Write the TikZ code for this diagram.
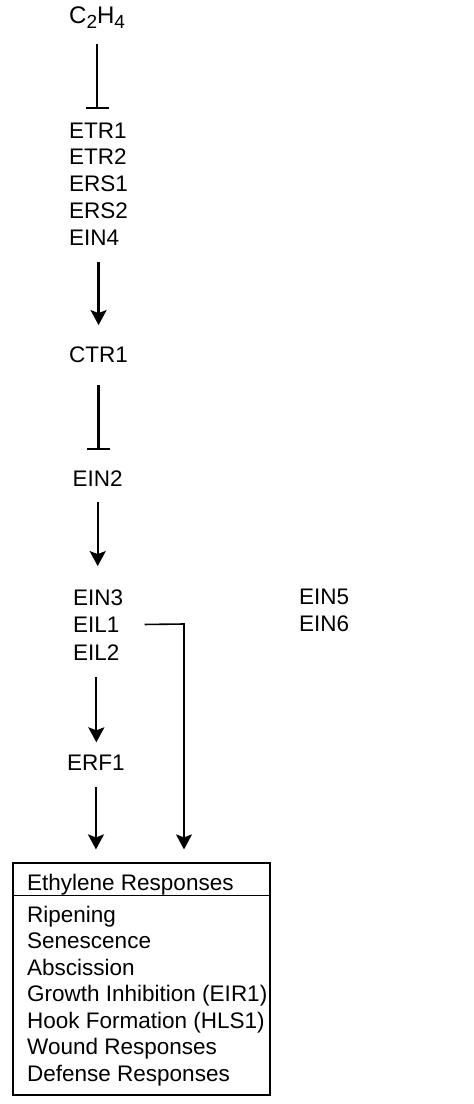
\documentclass[tikz,border=0pt]{standalone}
\usepackage{fontspec}
\setmainfont{Liberation Sans}
\usetikzlibrary{arrows.meta}

\begin{document}
\begin{tikzpicture}[x=1pt, y=-1pt,
  every node/.style={anchor=base west, inner sep=0pt, font=\fontsize{22.5}{26}\selectfont},
  act/.style={line width=2.2pt, -{Stealth[length=15pt, width=16pt, inset=3pt]}},
  inhibit/.style={line width=2.2pt, -{Bar[width=23pt, line width=2pt]}}]
\useasboundingbox (0,0) rectangle (474,1104);

\node (c2h4) at (69, 23) [font=\fontsize{24}{26}\selectfont] {C\raisebox{-5pt}{\fontsize{19}{19}\selectfont 2}H\raisebox{-5pt}{\fontsize{19}{19}\selectfont 4}};

\node (etr1) at (69, 138.5) {ETR1};
\node (etr2) at (69, 164.5) {ETR2};
\node (ers1) at (69, 191) {ERS1};
\node (ers2) at (69, 218.5) {ERS2};
\node (ein4) at (69, 245.5) {EIN4};

\node (ctr1) at (69, 362) {CTR1};
\node (ein2) at (72.5, 486) {EIN2};

\node (ein3) at (73, 605) {EIN3};
\node (eil1) at (73, 632.5) {EIL1};
\node (eil2) at (73, 660) {EIL2};

\node (ein5) at (299, 604) {EIN5};
\node (ein6) at (299, 631) {EIN6};

\node (erf1) at (67, 770) {ERF1};

\node (resp) at (141.5, 979) [anchor=center, draw, line width=1.2pt, minimum width=257pt, minimum height=232pt] {};
\draw[line width=1.2pt] ([yshift=-33pt]resp.north west) -- ([yshift=-33pt]resp.north east);

\node (head) at (27, 890) {Ethylene Responses};
\node (ripe) at (27, 922) {Ripening};
\node (sene) at (27, 948.5) {Senescence};
\node (absc) at (27, 975) {Abscission};
\node (grow) at (27, 1001.5) {Growth Inhibition (EIR1)};
\node (hook) at (27, 1028) {Hook Formation (HLS1)};
\node (wound) at (27, 1054.5) {Wound Responses};
\node (defe) at (27, 1081) {Defense Responses};

\coordinate (bend) at (184, 624);

\draw[inhibit, shorten <=16pt, shorten >=14pt] (c2h4.south) -- (c2h4.south |- etr1.north);
\draw[act, shorten <=16.5pt, shorten >=21pt] (ctr1.north |- ein4.south) -- (ctr1.north);
\draw[inhibit, shorten <=23pt, shorten >=20pt] (ctr1.south) -- (ctr1.south |- ein2.north);
\draw[act, shorten <=16pt, shorten >=23pt] (ein2.south) -- (ein2.south |- ein3.north);
\draw[act, shorten <=17pt, shorten >=12pt] (eil2.south) -- (eil2.south |- erf1.north);
\draw[act, shorten <=17pt, shorten >=13pt] (erf1.south) -- (erf1.south |- resp.north);
\draw[act, line width=1.6pt, shorten <=25pt, shorten >=13pt] (eil1.east) -- (bend) -- (bend |- resp.north);
\end{tikzpicture}
\end{document}
